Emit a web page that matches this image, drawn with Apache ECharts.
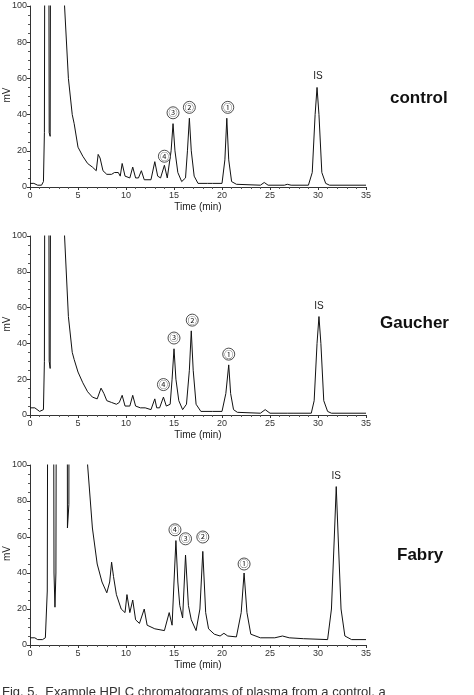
<!DOCTYPE html>
<html>
<head>
<meta charset="utf-8">
<script src="https://cdn.jsdelivr.net/npm/echarts@6/dist/echarts.min.js"></script>
<style>html,body{margin:0;padding:0;background:#fff}#c{width:474px;height:695px}</style>
</head>
<body>
<div id="c"></div>
<script>
// time (min), mV
var controlTrace = [[0,2],[0.4,2],[0.8,1],[1.2,1],[1.4,3],[1.5,30],[1.6,300],[1.9,300],[2.0,30],[2.1,28],[2.2,300],[3.4,300],[3.6,100],[4,60],[4.4,40],[4.6,35],[5,22],[5.5,17],[6,13],[6.5,11],[6.9,9],[7.1,18],[7.3,16],[7.6,9],[8,7],[8.5,7],[8.8,8],[9,7],[9.2,8],[9.4,6],[9.6,13],[9.9,6],[10.4,5],[10.7,11],[11,5],[11.3,5],[11.6,9],[11.9,4],[12.6,4],[13,14],[13.3,6],[13.6,5],[14,12],[14.3,5],[14.5,5],[14.7,20],[14.9,35],[15.1,20],[15.4,8],[15.8,3],[16.2,5],[16.4,20],[16.6,38],[16.8,20],[17.1,6],[17.5,2],[18.5,2],[18.7,3],[19,2],[20,2],[20.3,15],[20.5,38],[20.7,15],[21,3],[21.5,1.5],[24,1],[24.4,2.5],[24.8,1],[26.5,1],[26.8,1.5],[27.2,1],[29,1],[29.4,8],[29.7,40],[29.9,55],[30.1,40],[30.4,8],[30.8,2],[31.2,1],[35,1]];
var gaucherTrace = [[0,4],[0.5,4],[1,2],[1.4,3],[1.5,30],[1.6,300],[1.9,300],[2.0,30],[2.1,26],[2.2,300],[3.4,300],[3.6,100],[4,55],[4.4,35],[4.6,31],[5,24],[5.5,18],[6,13],[6.5,10],[7,9],[7.4,15],[7.7,12],[8,8],[8.5,7],[9,6],[9.3,7],[9.6,11],[9.9,5],[10.4,5],[10.7,11],[11,5],[11.5,4],[12,4],[12.6,3],[13,9],[13.2,4],[13.5,4],[13.9,10],[14.2,5],[14.6,6],[14.8,20],[15,37],[15.2,20],[15.5,8],[15.9,3],[16.3,6],[16.6,25],[16.8,47],[17,25],[17.3,6],[17.8,2],[19,2],[20,2],[20.4,12],[20.7,28],[20.9,12],[21.2,3],[21.6,1.5],[24,1],[24.5,3],[25,1],[26.8,1],[27,1.5],[27.4,1],[29.3,1],[29.6,8],[29.9,40],[30.1,55],[30.3,40],[30.6,8],[31,2],[31.4,1],[35,1]];
var fabryTrace = [[0,4],[0.5,4],[0.8,3],[1.3,3],[1.6,4],[1.8,30],[1.9,300],[2.4,300],[2.5,40],[2.6,21],[2.7,40],[2.8,300],[3.85,300],[3.9,65],[4.05,78],[4.1,300],[5.8,300],[6,100],[6.5,65],[7,45],[7.5,35],[8,29],[8.3,35],[8.5,46],[8.7,38],[9,28],[9.5,20],[9.9,18],[10.1,28],[10.4,18],[10.7,25],[11,14],[11.4,12],[11.9,20],[12.2,11],[13,9],[14,8],[14.5,18],[14.8,11],[15,35],[15.2,58],[15.4,35],[15.6,22],[15.9,15],[16.2,50],[16.5,22],[16.8,14],[17.3,8],[17.7,20],[18,52],[18.3,18],[18.6,9],[19.2,6],[19.8,5],[20.2,6.5],[20.6,5],[21.5,4.5],[22,18],[22.3,40],[22.6,18],[23,6],[24,4],[25.5,4],[26.3,5],[27,4],[28.5,3.5],[31,3],[31.4,20],[31.7,60],[31.9,88],[32.1,60],[32.4,20],[32.8,5],[33.5,3],[35,3]];
var controlLabels = [['④',14,17],['③',14.9,41],['②',16.6,44],['①',20.6,44]];
var gaucherLabels = [['④',13.9,17],['③',15,43],['②',16.9,53],['①',20.7,34]];
var fabryLabels = [['④',15.1,64],['③',16.2,59],['②',18,60],['①',22.3,45]];
var isLabels = [[30,61],[30.1,61],[31.9,94]];
var panelNames = ['control','Gaucher','Fabry'];
var gridTops = [6, 236, 465];
var gridHeights = [181, 179, 180];

var chart = echarts.init(document.getElementById('c'));
var traces = [controlTrace, gaucherTrace, fabryTrace];
var labels = [controlLabels, gaucherLabels, fabryLabels];
var axisText = {color:'#333', fontSize:9, fontFamily:'Liberation Sans'};
var grids = [], xAxes = [], yAxes = [], series = [], graphics = [];
var labelTops = [100, 325, 557];
for (var i = 0; i < 3; i++) {
	grids.push({left:30, top:gridTops[i], width:336, height:gridHeights[i], containLabel:false, outerBoundsMode:'none'});
	xAxes.push({
		type:'value', gridIndex:i, min:0, max:35, interval:5,
		name:'Time (min)', nameLocation:'middle', nameGap:15,
		nameTextStyle:{color:'#222', fontSize:10, fontFamily:'Liberation Sans'},
		axisLine:{lineStyle:{color:'#333'}}, axisTick:{length:3, lineStyle:{color:'#333'}},
		minorTick:{show:true, splitNumber:5, length:2, lineStyle:{color:'#555'}},
		axisLabel:Object.assign({margin:4}, axisText), splitLine:{show:false}
	});
	yAxes.push({
		type:'value', gridIndex:i, min:0, max:100, interval:20,
		axisLine:{show:true, lineStyle:{color:'#333'}}, axisTick:{show:true, length:3, lineStyle:{color:'#333'}},
		minorTick:{show:true, splitNumber:4, length:2, lineStyle:{color:'#555'}},
		axisLabel:Object.assign({margin:3}, axisText), splitLine:{show:false}
	});
	var pts = labels[i].map(function(l){
		return {name:l[0], coord:[l[1], l[2]], label:{formatter:l[0]}};
	});
	series.push({
		type:'line', xAxisIndex:i, yAxisIndex:i, data:traces[i],
		showSymbol:false, clip:true, animation:false,
		lineStyle:{color:'#111', width:1},
		markPoint:{
			symbol:'circle', symbolSize:12, animation:false,
			itemStyle:{color:'#fff', borderColor:'#222', borderWidth:0.8},
			label:{show:true, position:'inside', color:'#222', fontSize:9, fontFamily:'Noto Sans CJK SC'},
			data:pts.concat([{name:'IS', coord:isLabels[i], symbol:'rect', symbolSize:[1,1],
				itemStyle:{color:'rgba(0,0,0,0)', borderWidth:0},
				label:{formatter:'IS', fontSize:10, fontFamily:'Liberation Sans'}}])
		}
	});
	graphics.push({type:'text', left:i == 2 ? 397 : (i == 1 ? 380 : 390), top:labelTops[i] - 10,
		style:{text:panelNames[i], font:'bold 17px "Liberation Sans"', fill:'#111'}});
	graphics.push({type:'text', x:2, y:gridTops[i] + gridHeights[i] / 2 + 6, rotation:Math.PI / 2,
		style:{text:'mV', font:'10px "Liberation Sans"', fill:'#222'}});
}
graphics.push({type:'text', left:2, top:686,
	style:{text:'Fig. 5.  Example HPLC chromatograms of plasma from a control, a', font:'13px "Liberation Sans"', fill:'#333'}});

chart.setOption({
	backgroundColor:'#fff',
	grid:grids, xAxis:xAxes, yAxis:yAxes, series:series, graphic:graphics
});
</script>
</body>
</html>
